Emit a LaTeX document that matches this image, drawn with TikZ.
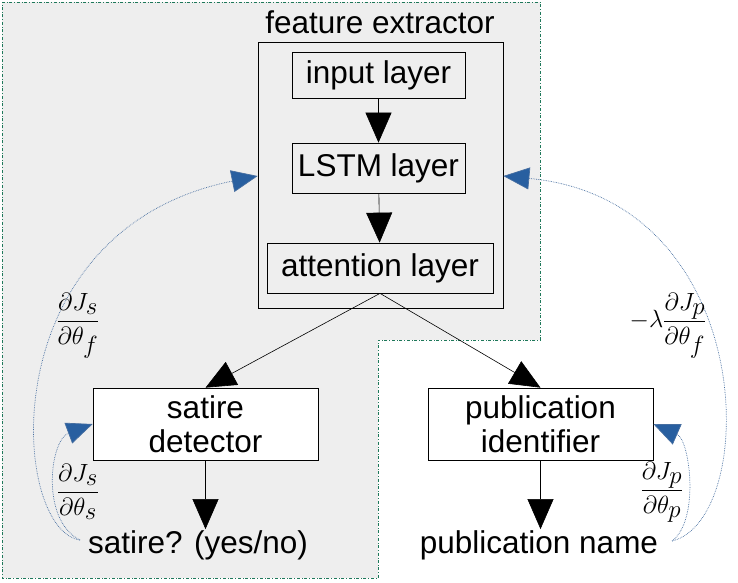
\documentclass[tikz,border=0pt]{standalone}
\usepackage{fontspec}
\setmainfont{Liberation Sans}
\usetikzlibrary{arrows.meta}
\begin{document}
\begin{tikzpicture}[x=1pt,y=-1pt,
  box/.style={draw=black,line width=0.7pt,inner sep=0pt,font=\fontsize{31.5}{36}\selectfont,align=center},
  flow/.style={-{Triangle[length=30pt,width=26pt]},line width=0.6pt},
  grad/.style={densely dotted,draw={rgb,255:red,70;green,110;blue,160},line width=0.7pt,-{Triangle[length=26pt,width=22pt,fill={rgb,255:red,40;green,95;blue,160}]}},
  lab/.style={font=\fontsize{31.5}{36}\selectfont,inner sep=1pt},
  mlab/.style={font=\fontsize{34}{40}\selectfont,inner sep=1pt}]
\useasboundingbox (0,0) rectangle (738,582);
\fill[gray!13] (2,2) -- (540,2) -- (540,340) -- (378,340) -- (378,578) -- (2,578) -- cycle;
\draw[dash dot,line width=0.7pt,draw={rgb,255:red,30;green,120;blue,90}] (2,2) -- (540,2) -- (540,340) -- (378,340) -- (378,578) -- (2,578) -- cycle;
\node[lab] (fet) at (380,22) {feature extractor};
\node[box,fill=none,minimum width=245pt,minimum height=266pt] (fe) at (380.5,175) {};
\node[box,minimum width=173pt,minimum height=46pt] (inp) at (378.5,75) {input layer};
\node[box,minimum width=173pt,minimum height=50pt] (lstm) at (378.5,168) {LSTM layer};
\node[box,minimum width=226pt,minimum height=50pt] (att) at (380,268) {attention layer};
\node[box,fill=white,minimum width=225pt,minimum height=72pt,font=\fontsize{31.5}{34}\selectfont] (sat) at (205.5,424) {satire\\detector};
\node[box,fill=white,minimum width=225pt,minimum height=72pt,font=\fontsize{31.5}{34}\selectfont] (pub) at (540.5,424) {publication\\identifier};
\node[lab] (so) at (198,545) {satire? (yes/no)};
\node[lab] (po) at (539,545) {publication name};
\draw[flow] (inp) -- (lstm);
\draw[flow] (lstm) -- (att);
\draw[flow] (att.south) -- (sat.north);
\draw[flow] (att.south) -- (pub.north);
\draw[flow] (sat.south) -- (sat.south |- so.north);
\draw[flow] (pub.south) -- (pub.south |- po.north);
\coordinate (sl) at (80,540);
\coordinate (pr) at (672,541);
\draw[grad] (sl) .. controls (10,530) and (-10,230) .. (fe.west |- 0,176);
\draw[grad] (sl) .. controls (40,520) and (50,440) .. (sat.west);
\draw[grad] (pr) .. controls (760,520) and (760,200) .. (fe.east |- 0,176);
\draw[grad] (pr) .. controls (700,520) and (690,440) .. (pub.east);
\node[mlab] at (78,326) {$\displaystyle\frac{\partial J_s}{\partial\theta_f}$};
\node[mlab] at (78,492) {$\displaystyle\frac{\partial J_s}{\partial\theta_s}$};
\node[mlab] at (662,492) {$\displaystyle\frac{\partial J_p}{\partial\theta_p}$};
\node[mlab] at (668,326) {$\displaystyle-\lambda\frac{\partial J_p}{\partial\theta_f}$};
\end{tikzpicture}
\end{document}
